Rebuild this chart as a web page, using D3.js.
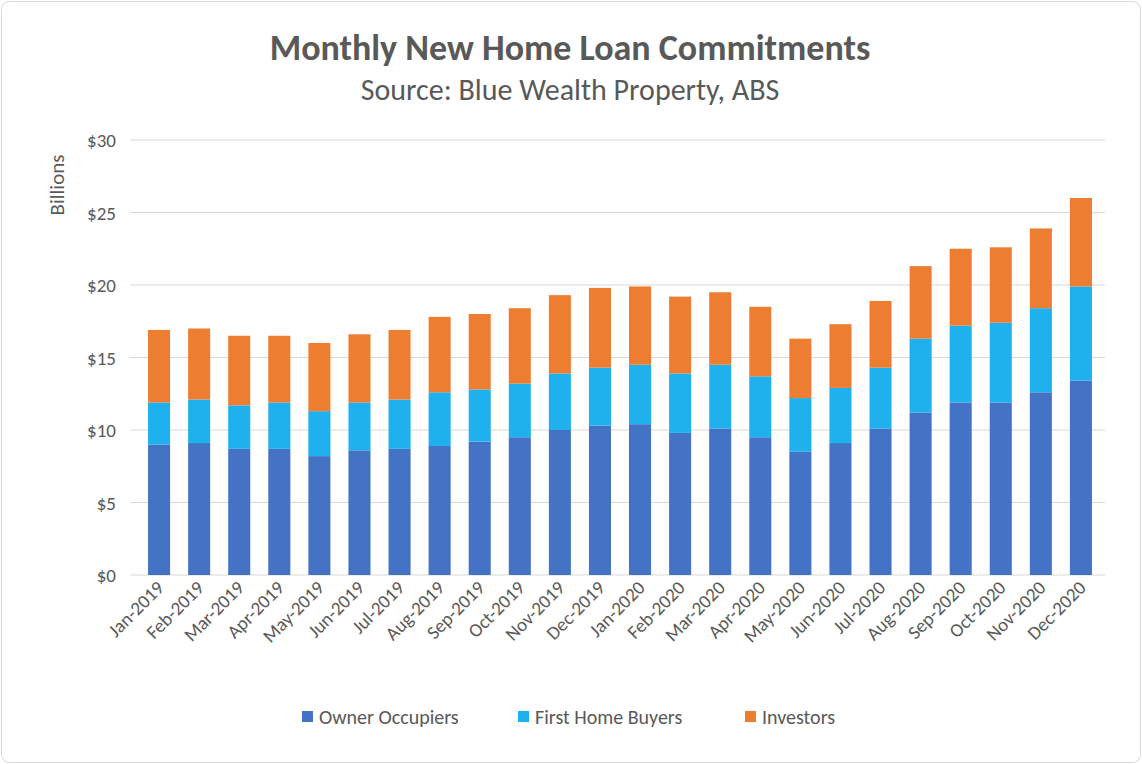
<!DOCTYPE html><html><head><meta charset="utf-8"><script src="https://cdn.jsdelivr.net/npm/d3@7"></script>
<style>body{margin:0;background:#fff;font-family:Calibri,Carlito,Lato,sans-serif}</style></head><body><svg id="c" width="1142" height="764"></svg><script>
const months=["Jan-2019","Feb-2019","Mar-2019","Apr-2019","May-2019","Jun-2019","Jul-2019","Aug-2019","Sep-2019","Oct-2019","Nov-2019","Dec-2019","Jan-2020","Feb-2020","Mar-2020","Apr-2020","May-2020","Jun-2020","Jul-2020","Aug-2020","Sep-2020","Oct-2020","Nov-2020","Dec-2020"];
const ownerOccupiers=[9.0,9.1,8.7,8.7,8.2,8.6,8.7,8.9,9.2,9.5,10.0,10.3,10.4,9.8,10.1,9.5,8.5,9.1,10.1,11.2,11.9,11.9,12.6,13.4];
const firstHomeBuyers=[2.9,3.0,3.0,3.2,3.1,3.3,3.4,3.7,3.6,3.7,3.9,4.0,4.1,4.1,4.4,4.2,3.7,3.8,4.2,5.1,5.3,5.5,5.8,6.5];
const investors=[5.0,4.9,4.8,4.6,4.7,4.7,4.8,5.2,5.2,5.2,5.4,5.5,5.4,5.3,5.0,4.8,4.1,4.4,4.6,5.0,5.3,5.2,5.5,6.1];
const yTicks=[0,5,10,15,20,25,30];
const seriesNames=["Owner Occupiers","First Home Buyers","Investors"];
const colors=["#4472C4","#1FB0EE","#ED7D31"];
const svg=d3.select("#c");
svg.append("rect").attr("x",1.5).attr("y",1.5).attr("width",1139).attr("height",761).attr("rx",8).attr("fill","#fff").attr("stroke","#d9d9d9");
const L=130,R=1110,T=140,B=575;
const x=d3.scaleBand().domain(months).range([L,R]).padding(0.45);
const y=d3.scaleLinear().domain([0,30]).range([B,T]);
svg.append("g").selectAll("line").data(yTicks).join("line").attr("x1",L).attr("x2",1105).attr("y1",d=>y(d)).attr("y2",d=>y(d)).attr("stroke","#d9d9d9");
svg.append("g").selectAll("text").data(yTicks).join("text").attr("x",L-14).attr("y",d=>y(d)+7).attr("text-anchor","end").attr("font-size",19).attr("fill","#595959").text(d=>"$"+d);
const data=months.map((m,i)=>({m,a:ownerOccupiers[i],b:firstHomeBuyers[i],c:investors[i]}));
const stack=d3.stack().keys(["a","b","c"])(data);
stack.forEach((s,k)=>svg.append("g").attr("fill",colors[k]).selectAll("rect").data(s).join("rect").attr("x",d=>x(d.data.m)).attr("width",x.bandwidth()).attr("y",d=>y(d[1])).attr("height",d=>y(d[0])-y(d[1])));
svg.append("g").selectAll("text").data(months).join("text").attr("transform",d=>`translate(${x(d)+x.bandwidth()/2+6},${B+14}) rotate(-45)`).attr("text-anchor","end").attr("font-size",19).attr("fill","#595959").text(d=>d);
svg.append("text").attr("transform","translate(64,185) rotate(-90)").attr("text-anchor","middle").attr("font-size",21).attr("fill","#595959").text("Billions");
svg.append("text").attr("x",570).attr("y",60).attr("text-anchor","middle").attr("font-size",36).attr("font-weight","bold").attr("fill","#595959").text("Monthly New Home Loan Commitments");
svg.append("text").attr("x",570).attr("y",100).attr("text-anchor","middle").attr("font-size",30).attr("fill","#595959").text("Source: Blue Wealth Property, ABS");
const lx=[302,518,745];
seriesNames.forEach((n,k)=>{const g=svg.append("g");g.append("rect").attr("x",lx[k]).attr("y",711).attr("width",11).attr("height",11).attr("fill",colors[k]);g.append("text").attr("x",lx[k]+17).attr("y",724).attr("font-size",20).attr("fill","#595959").text(n);});
</script></body></html>
